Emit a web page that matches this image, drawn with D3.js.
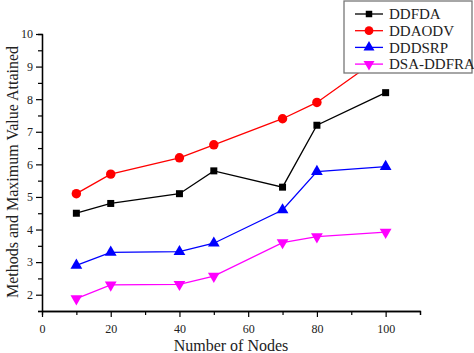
<!DOCTYPE html>
<head>
  <meta charset="utf-8">
  <script src="https://d3js.org/d3.v7.min.js"></script>
  <style type="text/css">
    body { margin: 0; background: #fff; }
    svg text { font-family: "Liberation Serif", serif !important; }
  </style>
</head>
<body>
  <script type="text/javascript">
    var nodes = [10, 20, 40, 50, 70, 80, 100];
    var seriesNames = ["DDFDA", "DDAODV", "DDDSRP", "DSA-DDFRA"];
    var ddfda = [4.5, 4.8, 5.1, 5.8, 5.3, 7.2, 8.2];
    var ddaodv = [5.1, 5.7, 6.2, 6.6, 7.4, 7.9, 9.4];
    var dddsrp = [2.9, 3.3, 3.32, 3.58, 4.6, 5.78, 5.93];
    var dsaddfra = [1.88, 2.3, 2.32, 2.57, 3.6, 3.78, 3.92];
    var xTicks = [0, 20, 40, 60, 80, 100];
    var yTicks = [2, 3, 4, 5, 6, 7, 8, 9, 10];

    var serif = "Liberation Serif";
    var colors = ["#000000", "#ff0000", "#0000ff", "#ff00ff"];
    var symbols = [d3.symbolSquare, d3.symbolCircle, d3.symbolTriangle, d3.symbolTriangle];
    var values = [ddfda, ddaodv, dddsrp, dsaddfra];

    var series = seriesNames.map(function(name, i) {
      return { name: name, color: colors[i], symbol: symbols[i], flip: i === 3,
        points: nodes.map(function(n, j) { return { x: n, y: values[i][j] }; }) };
    });

    var margin = { top: 34, left: 42 },
        width = 420 - 42,
        height = 311 - 34;

    var svg = d3.select("body").append("svg")
      .attr("width", 474).attr("height", 353)
      .attr("font-family", serif);

    var g = svg.append("g")
      .attr("transform", "translate(" + [margin.left, margin.top] + ")");

    var xScale = d3.scaleLinear().domain([0, 110]).range([0, width]);
    var yScale = d3.scaleLinear().domain([1.5, 10]).range([height, 0]);

    function symSize(s, big) {
      if (s === d3.symbolSquare) return big ? 49 : 42;
      if (s === d3.symbolCircle) return big ? 70 : 60;
      return big ? 60 : 52;
    }

    // minor ticks
    var xAxisMinor = d3.axisBottom(xScale).tickValues(d3.range(10, 111, 20)).tickSize(4).tickFormat("");
    var yAxisMinor = d3.axisLeft(yScale).tickValues(d3.range(1.5, 10, 1)).tickSize(4).tickFormat("");
    var xAxis = d3.axisBottom(xScale).tickValues(xTicks).tickSize(6).tickSizeOuter(0);
    var yAxis = d3.axisLeft(yScale).tickValues(yTicks).tickSize(6).tickSizeOuter(0);

    g.append("g").attr("transform", "translate(0," + height + ")").call(xAxisMinor);
    g.append("g").call(yAxisMinor);
    var xa = g.append("g").attr("class", "x--axis").attr("transform", "translate(0," + height + ")").call(xAxis);
    var ya = g.append("g").attr("class", "y--axis").call(yAxis);

    g.selectAll(".domain").attr("stroke", "#000").attr("stroke-width", 1.3);
    g.selectAll(".tick line").attr("stroke", "#000").attr("stroke-width", 1.2);
    xa.attr("font-family", serif).attr("font-size", 12);
    ya.attr("font-family", serif).attr("font-size", 12);
    xa.selectAll("text").attr("dy", "1.1em").attr("fill", "#222");
    ya.selectAll("text").attr("fill", "#222");

    var line = d3.line()
      .x(function(d) { return xScale(d.x); })
      .y(function(d) { return yScale(d.y); });

    series.forEach(function(s) {
      g.append("path")
        .datum(s.points)
        .attr("fill", "none")
        .attr("stroke", s.color)
        .attr("stroke-width", 1.3)
        .attr("d", line);

      g.selectAll(null)
        .data(s.points)
        .enter().append("path")
        .attr("d", d3.symbol().type(s.symbol).size(symSize(s.symbol, true)))
        .attr("fill", s.color)
        .attr("transform", function(d) {
          return "translate(" + [xScale(d.x), yScale(d.y)] + ")" + (s.flip ? " rotate(180)" : "");
        });
    });

    // axis titles
    svg.append("text")
      .attr("x", 231).attr("y", 351)
      .attr("text-anchor", "middle")
      .attr("font-size", 16)
      .attr("fill", "#222")
      .text("Number of Nodes");

    svg.append("text")
      .attr("transform", "translate(18,172) rotate(-90)")
      .attr("text-anchor", "middle")
      .attr("font-size", 16)
      .attr("fill", "#222")
      .text("Methods and Maximum Value Attained");

    // legend
    var legend = svg.append("g").attr("transform", "translate(344,1)");
    legend.append("rect")
      .attr("width", 128).attr("height", 72)
      .attr("fill", "#fff").attr("stroke", "#777").attr("stroke-width", 1.3);

    var items = legend.selectAll("g.item")
      .data(series)
      .enter().append("g")
      .attr("transform", function(d, i) { return "translate(0," + (13 + i * 16.7) + ")"; });

    items.append("line")
      .attr("x1", 11).attr("x2", 39)
      .attr("stroke", function(d) { return d.color; })
      .attr("stroke-width", 1.3);
    items.append("path")
      .attr("d", function(d) { return d3.symbol().type(d.symbol).size(symSize(d.symbol, false))(); })
      .attr("fill", function(d) { return d.color; })
      .attr("transform", function(d) { return "translate(25,0)" + (d.flip ? " rotate(180)" : ""); });
    items.append("text")
      .attr("x", 45).attr("dy", "0.35em")
      .attr("font-size", 15)
      .attr("fill", "#222")
      .text(function(d) { return d.name; });
  </script>
</body>
